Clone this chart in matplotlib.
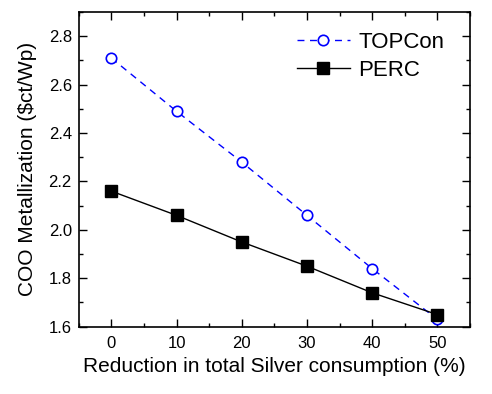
import matplotlib
matplotlib.use("Agg")
import matplotlib.pyplot as plt
from matplotlib.ticker import MultipleLocator

# Reduction in total silver consumption (%)
reduction = [0, 10, 20, 30, 40, 50]
# COO metallization ($ct/Wp)
topcon = [2.71, 2.49, 2.28, 2.06, 1.84, 1.63]
perc = [2.16, 2.06, 1.95, 1.85, 1.74, 1.65]

plt.rcParams["font.family"] = ["Liberation Sans", "DejaVu Sans"]

fig = plt.figure(figsize=(4.92, 3.94), dpi=100)
ax = fig.add_axes([78.7 / 492, 1 - 326.7 / 394, (470 - 78.7) / 492, (326.7 - 12) / 394])

ax.plot(reduction, topcon, color="#0000ff", linestyle=(0, (5, 4)), linewidth=1.0,
        marker="o", markersize=7.5, markerfacecolor="white", markeredgecolor="#0000ff",
        markeredgewidth=1.2, label="TOPCon")
ax.plot(reduction, perc, color="black", linestyle="-", linewidth=1.0,
        marker="s", markersize=8.5, markerfacecolor="black", markeredgecolor="black",
        label="PERC")

ax.set_xlim(-5, 55)
ax.set_ylim(1.6, 2.9)
ax.set_xticks(reduction)
ax.set_yticks([1.6, 1.8, 2.0, 2.2, 2.4, 2.6, 2.8])
ax.xaxis.set_minor_locator(MultipleLocator(5))
ax.yaxis.set_minor_locator(MultipleLocator(0.1))
ax.tick_params(which="both", direction="in", top=True, right=True, labelsize=12, width=1)
ax.tick_params(which="major", length=6)
ax.tick_params(which="minor", length=3)
ax.tick_params(axis="x", which="major", pad=7)
ax.tick_params(axis="y", which="major", pad=5)
for s in ax.spines.values():
    s.set_linewidth(1.2)

ax.set_xlabel("Reduction in total Silver consumption (%)", fontsize=15, labelpad=4)
ax.set_ylabel("COO Metallization ($ct/Wp)", fontsize=15, labelpad=8)

ax.legend(loc="upper right", bbox_to_anchor=(0.985, 1.0), frameon=False, fontsize=16,
          handlelength=2.4, handletextpad=0.36, labelspacing=0.32, borderaxespad=0.5)

fig.savefig("out.png", dpi=100)
